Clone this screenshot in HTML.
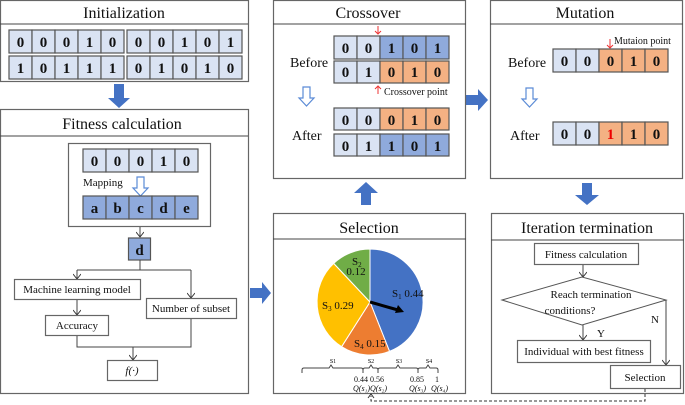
<!DOCTYPE html>
<html><head><meta charset="utf-8"><style>
html,body{margin:0;padding:0;background:#fff;}
svg{display:block;}
svg text{font-family:"Liberation Serif","Times New Roman","DejaVu Serif",serif;fill:#111;}
.b{font-weight:bold;font-size:15px;text-anchor:middle;}
.t{font-size:16px;text-anchor:middle;}
.s{font-size:11px;text-anchor:middle;}
.L{fill:#dae3f3;stroke:#555;stroke-width:1.2;}
.D{fill:#8faadc;stroke:#555;stroke-width:1.2;}
.O{fill:#f4b183;stroke:#555;stroke-width:1.2;}
.box{fill:#fff;stroke:#666;stroke-width:1.2;}
.ln{stroke:#444;stroke-width:1;fill:none;}
</style></head><body>
<svg width="685" height="405" viewBox="0 0 685 405" xmlns="http://www.w3.org/2000/svg" font-family="Liberation Serif, serif">
<defs>
<marker id="ar" markerWidth="8" markerHeight="8" refX="6" refY="4" orient="auto" markerUnits="userSpaceOnUse"><path d="M1,0 L6,4 L1,8" fill="none" stroke="#333" stroke-width="1"/></marker>
</defs>

<!-- Initialization -->
<rect class="box" x="0.5" y="0.5" width="248" height="81"/>
<line class="ln" x1="0" y1="24" x2="248" y2="24" stroke="#666"/>
<text class="t" x="124" y="18">Initialization</text>
<g>
<rect class="L" x="9" y="30" width="23" height="23"/><rect class="L" x="32" y="30" width="23" height="23"/><rect class="L" x="55" y="30" width="23" height="23"/><rect class="L" x="78" y="30" width="23" height="23"/><rect class="L" x="101" y="30" width="23" height="23"/>
<rect class="L" x="127" y="30" width="23" height="23"/><rect class="L" x="150" y="30" width="23" height="23"/><rect class="L" x="173" y="30" width="23" height="23"/><rect class="L" x="196" y="30" width="23" height="23"/><rect class="L" x="219" y="30" width="23" height="23"/>
<rect class="L" x="9" y="56" width="23" height="23"/><rect class="L" x="32" y="56" width="23" height="23"/><rect class="L" x="55" y="56" width="23" height="23"/><rect class="L" x="78" y="56" width="23" height="23"/><rect class="L" x="101" y="56" width="23" height="23"/>
<rect class="L" x="127" y="56" width="23" height="23"/><rect class="L" x="150" y="56" width="23" height="23"/><rect class="L" x="173" y="56" width="23" height="23"/><rect class="L" x="196" y="56" width="23" height="23"/><rect class="L" x="219" y="56" width="23" height="23"/>
<text class="b" x="20.5" y="47">0</text><text class="b" x="43.5" y="47">0</text><text class="b" x="66.5" y="47">0</text><text class="b" x="89.5" y="47">1</text><text class="b" x="112.5" y="47">0</text>
<text class="b" x="138.5" y="47">0</text><text class="b" x="161.5" y="47">0</text><text class="b" x="184.5" y="47">1</text><text class="b" x="207.5" y="47">0</text><text class="b" x="230.5" y="47">1</text>
<text class="b" x="20.5" y="73">1</text><text class="b" x="43.5" y="73">0</text><text class="b" x="66.5" y="73">1</text><text class="b" x="89.5" y="73">1</text><text class="b" x="112.5" y="73">1</text>
<text class="b" x="138.5" y="73">0</text><text class="b" x="161.5" y="73">1</text><text class="b" x="184.5" y="73">0</text><text class="b" x="207.5" y="73">1</text><text class="b" x="230.5" y="73">0</text>
</g>

<!-- blue arrows -->
<g fill="#4472c4">
<path d="M114,84 h10 v14 h6 l-11,10 l-11,-10 h6 z"/>
<path d="M250,288 h12 v-6 l9,11 l-9,11 v-6 h-12 z"/>
<path d="M466,95 h12 v-6 l10,11 l-10,11 v-6 h-12 z"/>
<path d="M361,205 v-12 h-7 l12,-11 l12,11 h-7 v12 z"/>
<path d="M582,183 h10 v12 h7 l-12,10 l-12,-10 h7 z"/>
</g>

<!-- Fitness calculation -->
<rect class="box" x="0.5" y="109.5" width="248" height="284"/>
<line class="ln" x1="0" y1="136" x2="248" y2="136" stroke="#666"/>
<text class="t" x="122" y="129">Fitness calculation</text>
<rect class="box" x="68.5" y="143.5" width="142" height="83"/>
<rect class="L" x="83" y="149" width="23" height="23"/><rect class="L" x="106" y="149" width="23" height="23"/><rect class="L" x="129" y="149" width="23" height="23"/><rect class="L" x="152" y="149" width="23" height="23"/><rect class="L" x="175" y="149" width="23" height="23"/>
<text class="b" x="94.5" y="166">0</text><text class="b" x="117.5" y="166">0</text><text class="b" x="140.5" y="166">0</text><text class="b" x="163.5" y="166">1</text><text class="b" x="186.5" y="166">0</text>
<text x="83" y="186" style="font-size:11px">Mapping</text>
<path d="M137,177 h7 v11 h4 l-7.5,8 l-7.5,-8 h4 z" fill="#fff" stroke="#5b8bd6" stroke-width="1.2"/>
<rect class="D" x="83" y="196" width="23" height="23"/><rect class="D" x="106" y="196" width="23" height="23"/><rect class="D" x="129" y="196" width="23" height="23"/><rect class="D" x="152" y="196" width="23" height="23"/><rect class="D" x="175" y="196" width="23" height="23"/>
<text class="b" x="94.5" y="213">a</text><text class="b" x="117.5" y="213">b</text><text class="b" x="140.5" y="213">c</text><text class="b" x="163.5" y="213">d</text><text class="b" x="186.5" y="213">e</text>
<line class="ln" x1="140" y1="227" x2="140" y2="237" marker-end="url(#ar)"/>
<rect class="D" x="128.5" y="238" width="22" height="22"/>
<text class="b" x="139.5" y="255">d</text>
<path class="ln" d="M140,260 v10 M77,270 H191"/>
<line class="ln" x1="77" y1="270" x2="77" y2="279" marker-end="url(#ar)"/>
<line class="ln" x1="191" y1="270" x2="191" y2="298" marker-end="url(#ar)"/>
<rect class="box" x="14.5" y="279.5" width="126" height="20"/>
<text class="s" x="77" y="293">Machine learning model</text>
<rect class="box" x="146.5" y="298.5" width="90" height="20"/>
<text class="s" x="191" y="312">Number of subset</text>
<line class="ln" x1="77" y1="300" x2="77" y2="315" marker-end="url(#ar)"/>
<rect class="box" x="45.5" y="315.5" width="63" height="20"/>
<text class="s" x="77" y="329">Accuracy</text>
<path class="ln" d="M77,336 v11 H191 V319"/>
<line class="ln" x1="133" y1="347" x2="133" y2="360" marker-end="url(#ar)"/>
<rect class="box" x="107.5" y="360.5" width="50" height="20"/>
<text class="s" x="132" y="374" style="font-style:italic">f(·)</text>

<!-- Crossover -->
<rect class="box" x="273.5" y="0.5" width="192" height="178"/>
<line class="ln" x1="273" y1="24" x2="466" y2="24" stroke="#666"/>
<text class="t" x="368" y="18">Crossover</text>
<text x="290" y="67" style="font-size:14px">Before</text>
<text x="292" y="140" style="font-size:14px">After</text>
<rect class="L" x="334" y="36" width="23" height="23"/><rect class="L" x="357" y="36" width="23" height="23"/><rect class="D" x="380" y="36" width="23" height="23"/><rect class="D" x="403" y="36" width="23" height="23"/><rect class="D" x="426" y="36" width="23" height="23"/>
<rect class="L" x="334" y="61" width="23" height="22"/><rect class="L" x="357" y="61" width="23" height="22"/><rect class="O" x="380" y="61" width="23" height="22"/><rect class="O" x="403" y="61" width="23" height="22"/><rect class="O" x="426" y="61" width="23" height="22"/>
<text class="b" x="345.5" y="53">0</text><text class="b" x="368.5" y="53">0</text><text class="b" x="391.5" y="53">1</text><text class="b" x="414.5" y="53">0</text><text class="b" x="437.5" y="53">1</text>
<text class="b" x="345.5" y="77">0</text><text class="b" x="368.5" y="77">1</text><text class="b" x="391.5" y="77">0</text><text class="b" x="414.5" y="77">1</text><text class="b" x="437.5" y="77">0</text>
<path d="M378,26 v8 M375,31 l3,3 l3,-3" stroke="#e33" fill="none" stroke-width="1"/>
<path d="M378,94 v-8 M375,89 l3,-3 l3,3" stroke="#e33" fill="none" stroke-width="1"/>
<text x="384" y="95" style="font-size:10px">Crossover point</text>
<path d="M303,87 h7 v11 h4 l-7.5,8 l-7.5,-8 h4 z" fill="#fff" stroke="#5b8bd6" stroke-width="1.2"/>
<rect class="L" x="334" y="108" width="23" height="22"/><rect class="L" x="357" y="108" width="23" height="22"/><rect class="O" x="380" y="108" width="23" height="22"/><rect class="O" x="403" y="108" width="23" height="22"/><rect class="O" x="426" y="108" width="23" height="22"/>
<rect class="L" x="334" y="134" width="23" height="22"/><rect class="L" x="357" y="134" width="23" height="22"/><rect class="D" x="380" y="134" width="23" height="22"/><rect class="D" x="403" y="134" width="23" height="22"/><rect class="D" x="426" y="134" width="23" height="22"/>
<text class="b" x="345.5" y="125">0</text><text class="b" x="368.5" y="125">0</text><text class="b" x="391.5" y="125">0</text><text class="b" x="414.5" y="125">1</text><text class="b" x="437.5" y="125">0</text>
<text class="b" x="345.5" y="151">0</text><text class="b" x="368.5" y="151">1</text><text class="b" x="391.5" y="151">1</text><text class="b" x="414.5" y="151">0</text><text class="b" x="437.5" y="151">1</text>

<!-- Mutation -->
<rect class="box" x="490.5" y="0.5" width="192" height="178"/>
<line class="ln" x1="490" y1="24" x2="683" y2="24" stroke="#666"/>
<text class="t" x="585" y="18">Mutation</text>
<text x="508" y="67" style="font-size:14px">Before</text>
<text x="510" y="140" style="font-size:14px">After</text>
<rect class="L" x="553" y="49" width="23" height="23"/><rect class="L" x="576" y="49" width="23" height="23"/><rect class="O" x="599" y="49" width="23" height="23"/><rect class="O" x="622" y="49" width="23" height="23"/><rect class="O" x="645" y="49" width="23" height="23"/>
<text class="b" x="564.5" y="66">0</text><text class="b" x="587.5" y="66">0</text><text class="b" x="610.5" y="66">0</text><text class="b" x="633.5" y="66">1</text><text class="b" x="656.5" y="66">0</text>
<path d="M610,39 v9 M607,45 l3,3 l3,-3" stroke="#e33" fill="none" stroke-width="1"/>
<text x="614" y="44" style="font-size:10px">Mutaion point</text>
<path d="M526,88 h7 v11 h4 l-7.5,8 l-7.5,-8 h4 z" fill="#fff" stroke="#5b8bd6" stroke-width="1.2"/>
<rect class="L" x="553" y="122" width="23" height="23"/><rect class="L" x="576" y="122" width="23" height="23"/><rect class="O" x="599" y="122" width="23" height="23"/><rect class="O" x="622" y="122" width="23" height="23"/><rect class="O" x="645" y="122" width="23" height="23"/>
<text class="b" x="564.5" y="139">0</text><text class="b" x="587.5" y="139">0</text><text class="b" x="610.5" y="139" style="fill:#e00">1</text><text class="b" x="633.5" y="139">1</text><text class="b" x="656.5" y="139">0</text>

<!-- Selection -->
<rect class="box" x="273.5" y="213.5" width="192" height="180"/>
<line class="ln" x1="273" y1="239" x2="466" y2="239" stroke="#666"/>
<text class="t" x="369" y="233">Selection</text>
<g stroke="#fff" stroke-width="1">
<path d="M370,302 L370,249 A53,53 0 0 1 389.5,351.3 Z" fill="#4472c4"/>
<path d="M370,302 L389.5,351.3 A53,53 0 0 1 341.6,346.7 Z" fill="#ed7d31"/>
<path d="M370,302 L341.6,346.7 A53,53 0 0 1 333.7,263.4 Z" fill="#ffc000"/>
<path d="M370,302 L333.7,263.4 A53,53 0 0 1 370,249 Z" fill="#70ad47"/>
</g>
<line x1="370" y1="302" x2="398" y2="310" stroke="#000" stroke-width="3"/>
<path d="M404,312 l-9,1 l3,-8 z" fill="#000"/>
<text x="392" y="297" style="font-size:11px">S<tspan font-size="7" dy="2">1</tspan><tspan dy="-2"> 0.44</tspan></text>
<text x="322" y="309" style="font-size:11px">S<tspan font-size="7" dy="2">3</tspan><tspan dy="-2"> 0.29</tspan></text>
<text x="354" y="347" style="font-size:11px">S<tspan font-size="7" dy="2">4</tspan><tspan dy="-2"> 0.15</tspan></text>
<text x="352" y="265" style="font-size:11px">S<tspan font-size="7" dy="2">2</tspan></text>
<text x="356" y="275" class="s">0.12</text>
<g class="ln" stroke-width="0.8">
<path d="M302,373 v-3 q0,-2 2,-2 H329 l2,-3 l2,3 H361 q2,0 2,2 v3"/>
<path d="M363,373 v-3 q0,-2 2,-2 H369 l2,-3 l2,3 H376 q2,0 2,2 v3"/>
<path d="M378,373 v-3 q0,-2 2,-2 H396 l2,-3 l2,3 H416 q2,0 2,2 v3"/>
<path d="M418,373 v-3 q0,-2 2,-2 H426 l2,-3 l2,3 H436 q2,0 2,2 v3"/>
</g>
<g style="font-size:8px">
<text x="330" y="363">s<tspan font-size="6">1</tspan></text>
<text x="368" y="363">s<tspan font-size="6">2</tspan></text>
<text x="396" y="363">s<tspan font-size="6">3</tspan></text>
<text x="426" y="363">s<tspan font-size="6">4</tspan></text>
<text x="354" y="382">0.44 0.56</text>
<text x="410" y="382">0.85</text>
<text x="435" y="382">1</text>
<text x="353" y="391" font-style="italic">Q(s₁)Q(s₂)</text>
<text x="409" y="391" font-style="italic">Q(s₃)</text>
<text x="431" y="391" font-style="italic">Q(s₄)</text>
</g>

<!-- Iteration termination -->
<rect class="box" x="491.5" y="213.5" width="192" height="180"/>
<line class="ln" x1="491" y1="240" x2="684" y2="240" stroke="#666"/>
<text class="t" x="587" y="233">Iteration termination</text>
<rect class="box" x="534.5" y="243.5" width="104" height="21"/>
<text class="s" x="586" y="258">Fitness calculation</text>
<line class="ln" x1="583" y1="265" x2="583" y2="277" marker-end="url(#ar)"/>
<path d="M502,300 L582,277 L666,300 L582,325 Z" fill="#fff" stroke="#555" stroke-width="1"/>
<text class="s" x="591" y="298">Reach termination</text>
<text class="s" x="570" y="314">conditions?</text>
<line class="ln" x1="583" y1="325" x2="583" y2="340" marker-end="url(#ar)"/>
<text x="597" y="337" style="font-size:11px">Y</text>
<text x="651" y="323" style="font-size:11px">N</text>
<rect class="box" x="517.5" y="340.5" width="133" height="22"/>
<text class="s" x="584" y="355">Individual with best fitness</text>
<line class="ln" x1="666" y1="300" x2="666" y2="365" marker-end="url(#ar)"/>
<rect class="box" x="610.5" y="365.5" width="70" height="23"/>
<text class="s" x="645" y="381">Selection</text>
<path d="M645,389 V401 H371 V396" fill="none" stroke="#333" stroke-width="1" stroke-dasharray="3,2"/>
<path d="M368,398 l3,-4 l3,4" fill="none" stroke="#333" stroke-width="1"/>
</svg>
</body></html>
